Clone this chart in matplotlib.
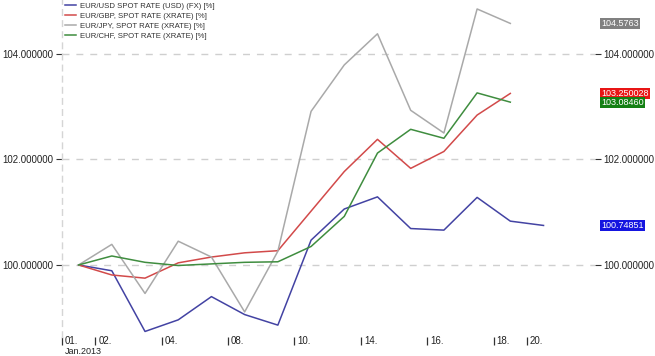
import matplotlib
matplotlib.use("Agg")
import matplotlib.pyplot as plt
import matplotlib.transforms as mtransforms

plt.rcParams['font.family'] = ['Liberation Sans', 'DejaVu Sans']

# ---- data (trading-day index, values in %) ----
days = list(range(15))
usd = [100.00, 99.89, 98.74, 98.96, 99.40, 99.06, 98.86, 100.47, 101.06, 101.29,
       100.69, 100.66, 101.28, 100.83, 100.74851]
gbp = [100.00, 99.81, 99.75, 100.04, 100.15, 100.23, 100.27, 101.02, 101.77, 102.38,
       101.83, 102.15, 102.84, 103.250028]
jpy = [100.00, 100.39, 99.46, 100.45, 100.15, 99.11, 100.26, 102.91, 103.79, 104.38,
       102.93, 102.50, 104.85, 104.5763]
chf = [100.00, 100.17, 100.05, 99.99, 100.02, 100.05, 100.06, 100.35, 100.92, 102.12,
       102.57, 102.40, 103.26, 103.08460]

series_names = ["EUR/USD SPOT RATE (USD) (FX) [%]",
                "EUR/GBP, SPOT RATE (XRATE) [%]",
                "EUR/JPY, SPOT RATE (XRATE) [%]",
                "EUR/CHF, SPOT RATE (XRATE) [%]"]
last_labels = ["100.74851", "103.250028", "104.5763", "103.08460"]

xtick_pos = [0, 1, 3, 5, 7, 9, 11, 13, 14]
xtick_labels = ["01.", "02.", "04.", "08.", "10.", "14.", "16.", "18.", "20."]
month_label = "Jan.2013"
ytick_pos = [100, 102, 104]
ytick_labels = ["100.000000", "102.000000", "104.000000"]

line_colors = ["#4343a3", "#d24a4a", "#a9a9a9", "#3f8d3f"]
box_colors = ["#1515e0", "#e81515", "#808080", "#138013"]

fig = plt.figure(figsize=(6.55, 3.56), dpi=100)
ax = fig.add_axes([62/655, 1-337/356, (595-62)/655, 337/356])

all_series = [usd, gbp, jpy, chf]
for vals, c, name in zip(all_series, line_colors, series_names):
    xs = [d + 0.5 for d in days[:len(vals)]]
    ax.plot(xs, vals, color=c, lw=1.1, label=name)

ax.set_xlim(0, 16.05)
ax.set_ylim(98.635, 105.02)

# grid
for y in ytick_pos:
    ax.axhline(y, color="#cfcfcf", lw=1.0, ls=(0, (5, 5)), zorder=0)

for s in ["top", "right", "bottom"]:
    ax.spines[s].set_visible(False)
ax.spines["left"].set_color("#d5d5d5")
ax.spines["left"].set_linestyle((0, (4, 4)))
ax.spines["left"].set_linewidth(1.0)

# y ticks both sides
ax.set_yticks(ytick_pos)
ax.set_yticklabels(ytick_labels)
ax.tick_params(axis="y", which="both", left=True, right=True, labelleft=True,
               labelright=True, length=4.5, width=0.8, color="#333333",
               labelsize=7, labelcolor="#222222", pad=1.5)

# x ticks
ax.set_xticks(xtick_pos)
ax.set_xticklabels(xtick_labels)
ax.tick_params(axis="x", direction="out", length=5.5, width=0.9, color="#333333",
               labelsize=7, labelcolor="#222222", pad=-5.5)
offset = mtransforms.ScaledTranslation(3/100, 0.5/100, fig.dpi_scale_trans)
for lab in ax.get_xticklabels():
    lab.set_horizontalalignment("left")
    lab.set_verticalalignment("top")
    lab.set_transform(lab.get_transform() + offset)

# month label below the first tick
moff = mtransforms.ScaledTranslation(3/100, 0, fig.dpi_scale_trans)
mtrans = mtransforms.blended_transform_factory(ax.transData, fig.transFigure)
ax.text(0, 0.5/356, month_label, transform=mtrans + moff, ha="left",
        va="bottom", fontsize=6.5, color="#222222", clip_on=False)

# legend
leg = ax.legend(loc="upper left", bbox_to_anchor=(0.0, 1.0), frameon=False,
                fontsize=5.6, handlelength=1.5, handletextpad=0.5,
                labelspacing=0.3, borderaxespad=0.1, borderpad=0.25)
for t in leg.get_texts():
    t.set_color("#333333")

# last-value boxes at right
trans = mtransforms.blended_transform_factory(fig.transFigure, ax.transData)
for vals, txt, bc in zip(all_series, last_labels, box_colors):
    ax.text(601/655, vals[-1], txt, transform=trans, ha="left", va="center",
            fontsize=6.5, color="white",
            bbox=dict(boxstyle="square,pad=0.12", fc=bc, ec="none"))

fig.savefig("out.png", dpi=100)
